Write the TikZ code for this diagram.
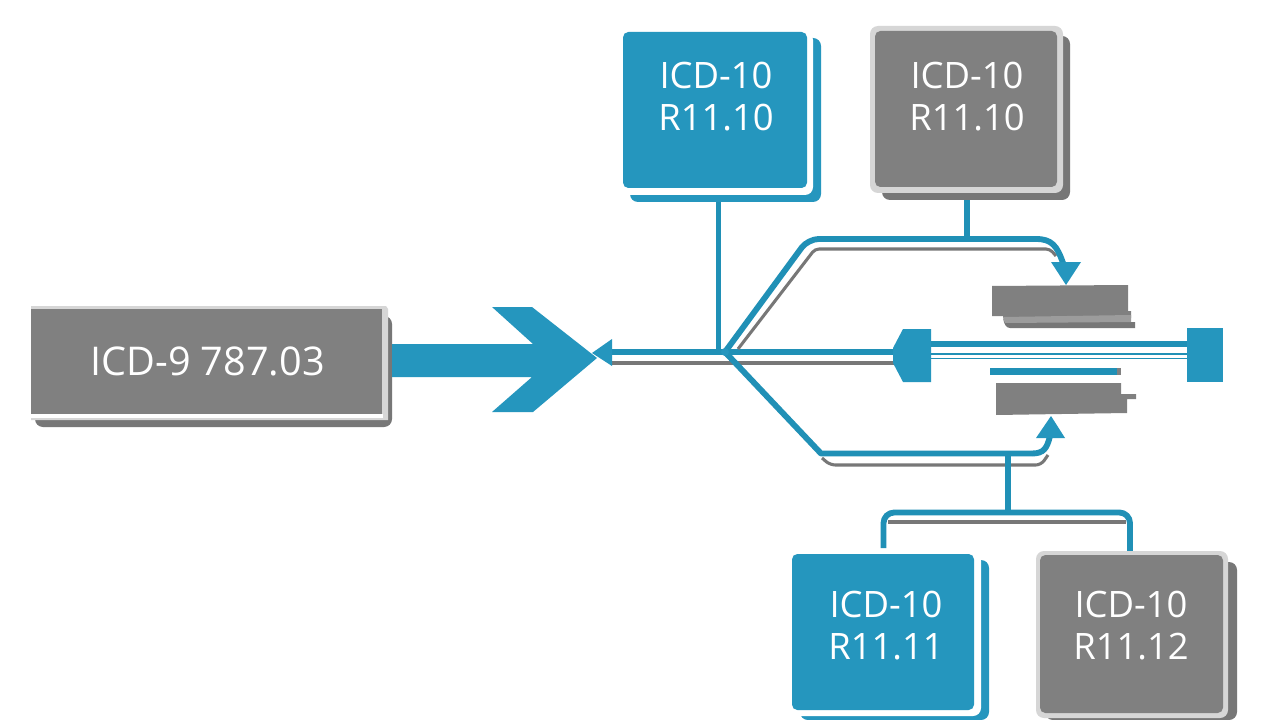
\documentclass[tikz,border=0pt]{standalone}
\usepackage{fontspec}
\setmainfont{Open Sans}
\definecolor{cblue}{HTML}{2596BE}
\definecolor{cline}{HTML}{2090B6}
\definecolor{cgrey}{HTML}{808080}
\definecolor{cshade}{HTML}{777777}
\definecolor{chalo}{HTML}{D6D6D6}
\definecolor{clight}{HTML}{9C9C9C}
\tikzset{
  px/.style={x=0.75pt,y=-0.75pt},
  bluewire/.style={draw=cline,line width=4.4pt,line join=round},
  thinblue/.style={draw=cline,line width=1.7pt},
  greywire/.style={draw=cshade,line width=2.3pt,line join=round},
  boxtext/.style={text=white,align=center,font=\fontsize{27.3}{31.5}\selectfont,inner sep=0pt},
  widetext/.style={boxtext,font=\fontsize{29.7}{31.5}\selectfont},
}
\newcommand{\plate}[5]{\fill[#1,rounded corners=6pt] (#2,#3) rectangle (#4,#5);}
\begin{document}
\begin{tikzpicture}[px]
\useasboundingbox (0,0) rectangle (1280,720);
\fill[white] (0,0) rectangle (1280,720);

% named anchor points
\coordinate (hub) at (725,352);
\coordinate (topA) at (718.5,202);
\coordinate (topAj) at (718.5,352);
\coordinate (topB) at (967,198);
\coordinate (topBj) at (967,239);
\coordinate (botJ) at (1008,454);
\coordinate (botK) at (1008,512);

% left card
\plate{cshade}{35}{316}{392}{427}
\fill[chalo] (31,306) -- (386,306) -- (388,309) -- (388,420) -- (31,420) -- cycle;
\fill[white] (31,414) rectangle (383,418);
\node[fill=cgrey,inner sep=0pt,minimum width=263.25pt,minimum height=78.75pt] (icd9) at (206.5,361.5) {};
\node[widetext] (icd9t) at (207.5,361) {ICD-9 787.03};

% large incoming arrow
\fill[cblue] (392,344) -- (533,344) -- (492,307) -- (532,307) -- (597,358) -- (533,412) -- (492,412) -- (532,377) -- (392,377) -- cycle;

% horizontal trunk
\draw[greywire] (612,363) -- (895,363);
\draw[bluewire] (612,352) -- (897,352);
\fill[cblue] (592,353) -- (612,339) -- (612,366) -- cycle;

% grey companions of the branches
\draw[greywire,rounded corners=3pt] (738,349) -- (815,249) -- (1050,249) -- (1056,256);
\draw[greywire,rounded corners=4pt] (822,458) -- (830,465) -- (1041,465) -- (1048,455);

% top-left connector
\draw[bluewire] (topA) -- (topAj);
% upper branch
\draw[bluewire,rounded corners=8pt] (hub) -- (808,239) -- (1036,239);
\draw[bluewire] (1036,239) .. controls (1052,239) and (1057,246) .. (1063,263);
\fill[cblue] (1066,285) -- (1051,262) -- (1081,262) -- cycle;
% connector from the top-right card
\draw[bluewire] (topB) -- (topBj);
% lower branch
\draw[bluewire] (hub) -- (821,453.5) -- (1032,453.5);
\draw[bluewire] (1032,453.5) .. controls (1044,453.5) and (1047,448) .. (1050,436);
\fill[cblue] (1051,416) -- (1036,438) -- (1065,438) -- cycle;
\fill[cblue] (hub) circle (4);

% bottom bus
\draw[greywire] (888,522) -- (1126,522);
\draw[draw=cline,line width=4.8pt] (botJ) -- (botK);
\draw[bluewire,rounded corners=8pt] (883.5,548) -- (883.5,512.5) -- (1130,512.5) -- (1130,551);

% right mechanism
\fill[cblue] (931,329) -- (903,329) -- (893,348) -- (893,363) -- (903,382) -- (931,382) -- cycle;
\fill[cblue] (1187,328) rectangle (1223,382);
\draw[bluewire] (931,344) -- (1187,344);
\draw[thinblue] (931,354) -- (1187,354);
\draw[draw=cline,line width=1pt] (931,358.5) -- (1187,358.5);

% upper plate
\fill[cgrey] (992,286) -- (1128,285) -- (1128,311) -- (1131,311) -- (1131,318) -- (1003,318) -- (1003,316) -- (992,316) -- cycle;
\fill[cshade] (1003,318) .. controls (1004,324) and (1006,328) .. (1010,328) -- (1135,328) -- (1135,322) -- (1005,322) -- cycle;
\fill[clight] (1003,317) -- (1131,315) -- (1131,322) -- (1005,323) -- cycle;

% lower plate
\fill[cline] (990,368) rectangle (1118,375);
\fill[cgrey] (1117,368) rectangle (1121,375);
\fill[cgrey] (996,383) -- (1121,383) -- (1121,394) -- (1136,394) -- (1136,399) -- (1127,399) -- (1127,413) -- (996,415) -- cycle;

% top blue card
\plate{cblue}{630}{38}{821}{202}
\plate{white}{623}{32}{813}{195}
\node[fill=cblue,rounded corners=4pt,inner sep=0pt,minimum width=138pt,minimum height=117pt] (topa) at (715,110) {};
\node[boxtext] (topat) at (716,97) {ICD-10\\R11.10};

% top grey card
\plate{cshade}{882}{36}{1070}{200}
\plate{chalo}{870}{26}{1063}{193}
\node[fill=cgrey,rounded corners=4pt,inner sep=0pt,minimum width=136.5pt,minimum height=117pt] (topb) at (966,109) {};
\node[boxtext] (topbt) at (967,97) {ICD-10\\R11.10};

% bottom blue card
\plate{cblue}{800}{560}{989}{720}
\plate{white}{786}{549}{981}{716}
\node[fill=cblue,rounded corners=4pt,inner sep=0pt,minimum width=136.5pt,minimum height=117pt] (bota) at (883,632) {};
\node[boxtext] (botat) at (886,626) {ICD-10\\R11.11};

% bottom grey card
\plate{cshade}{1045}{562}{1237}{720}
\plate{chalo}{1036}{551}{1228}{718}
\node[fill=cgrey,rounded corners=4pt,inner sep=0pt,minimum width=137.25pt,minimum height=118.5pt] (botb) at (1131.5,634) {};
\node[boxtext] (botbt) at (1131,626) {ICD-10\\R11.12};
\end{tikzpicture}
\end{document}
